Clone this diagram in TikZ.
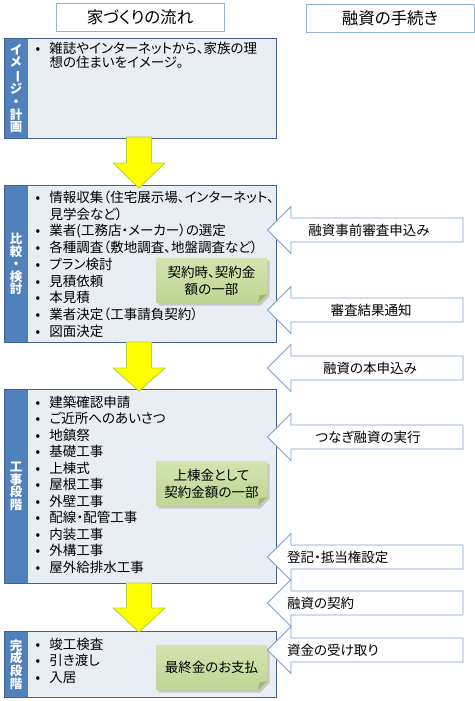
\documentclass[tikz,border=0pt]{standalone}
\usepackage{fontspec}
\setmainfont{Noto Sans CJK JP}[RawFeature=+palt]
\usetikzlibrary{calc}

\definecolor{bandblue}{HTML}{4F81BD}
\definecolor{boxfill}{HTML}{E9EDF4}
\definecolor{boxline}{HTML}{42638F}
\definecolor{headline}{HTML}{95B3D7}
\definecolor{loanline}{HTML}{7E9FCE}
\definecolor{flowyellow}{HTML}{FFFF00}
\definecolor{flowedge}{HTML}{B5D33A}
\definecolor{notetop}{HTML}{D3E4B0}
\definecolor{notebot}{HTML}{BED593}
\definecolor{notefold}{HTML}{9CB96B}

\newcommand{\itm}{\makebox[13.8pt][l]{\textbullet}}
\newcommand{\cnt}{\hspace*{13.8pt}}
\newcommand{\vbar}{\rotatebox[origin=c]{-90}{ー}}

\tikzset{
  headbox/.style={draw=headline, fill=white, line width=0.9pt, minimum width=168pt,
    minimum height=28pt, inner sep=0pt, font=\fontsize{16.5}{18}\selectfont},
  stagebox/.style={draw=boxline, fill=boxfill, line width=0.9pt, anchor=north west,
    minimum width=272pt, inner sep=0pt,
    path picture={\fill[bandblue] (path picture bounding box.north west)
      rectangle ([xshift=24pt]path picture bounding box.south west);}},
  bandtext/.style={text=white, align=center, inner sep=0pt,
    font=\fontsize{12.5}{12.6}\selectfont\bfseries},
  item/.style={anchor=base west, inner sep=0pt, font=\fontsize{13.5}{16}\selectfont},
  flow/.style={fill=flowyellow, draw=flowedge, line width=0.9pt, line join=round},
  loan/.style={fill=white, draw=loanline, line width=0.9pt},
  loantext/.style={inner sep=0pt, font=\fontsize{13.5}{16}\selectfont},
  notetext/.style={align=center, inner sep=0pt, font=\fontsize{13.5}{17}\selectfont}
}

\begin{document}
\begin{tikzpicture}[x=1pt, y=-1pt]
  \useasboundingbox (0,0) rectangle (474,701);

  % headings
  \node[headbox] (flowhead) at (140,17.5) {家づくりの流れ};
  \node[headbox] (loanhead) at (390,18) {融資の手続き};

  % stage boxes with the blue band
  \foreach \n/\top/\bot/\t in {1/38/138/{イ\\メ\\\vbar\\ジ\\・\\計\\画},
      2/185/342/{比\\較\\・\\検\\討}, 3/389/583/{工\\事\\段\\階},
      4/631/697/{完\\成\\段\\階}}{
    \node[stagebox, minimum height=\bot pt-\top pt] (stage\n) at (4,\top) {};
    \node[bandtext] (band\n) at ([xshift=12pt]stage\n.west) {\t};
  }

  % items
  \foreach \t [count=\i] in {{\itm 雑誌やインターネットから、家族の理},
      {\cnt 想の住まいをイメージ。}}
    \node[item] (one-\i) at (35.5,53+14*\i-14) {\t};
  \foreach \t [count=\i] in {{\itm 情報収集（住宅展示場、インターネット、},
      {\cnt 見学会など）}, {\itm 業者(工務店・メーカー）の選定},
      {\itm 各種調査（敷地調査、地盤調査など）}, {\itm プラン検討},
      {\itm 見積依頼}, {\itm 本見積}, {\itm 業者決定（工事請負契約）},
      {\itm 図面決定}}
    \node[item] (two-\i) at (35.5,202.5+16.7*\i-16.7) {\t};
  \foreach \t [count=\i] in {建築確認申請, ご近所へのあいさつ, 地鎮祭, 基礎工事,
      上棟式, 屋根工事, 外壁工事, 配線・配管工事, 内装工事, 外構工事,
      屋外給排水工事}
    \node[item] (three-\i) at (35.5,407+16.5*\i-16.5) {\itm\t};
  \foreach \t [count=\i] in {竣工検査, 引き渡し, 入居}
    \node[item] (four-\i) at (35.5,649+16.5*\i-16.5) {\itm\t};

  % yellow arrows between stages
  \foreach \top/\hs/\tip in {137/163/188, 342/368/391, 583/608/632}
    \draw[flow] (126.5,\top) -- (151.5,\top) -- (151.5,\hs) -- (165,\hs)
      -- (139,\tip) -- (113,\hs) -- (126.5,\hs) -- cycle;

  % notes
  \foreach \n/\top/\t in {1/258/{契約時、契約金\\額の一部},
      2/461/{上棟金として\\契約金額の一部}, 3/645/{最終金のお支払}}{
    \fill[black!22] (158.5,\top+2.5) -- (269.5,\top+2.5) -- (269.5,\top+38)
      -- (260.5,\top+47.5) -- (158.5,\top+47.5) -- cycle;
    \shade[top color=notetop, bottom color=notebot] (156,\top) -- (267,\top)
      -- (267,\top+36) -- (258,\top+45) -- (156,\top+45) -- cycle;
    \fill[notefold] (267,\top+36) -- (258,\top+45) -- (259.5,\top+37.5) -- cycle;
    \node[notetext] (note\n) at (211.5,\top+22.5) {\t};
  }

  % loan arrows
  \foreach \y/\x/\a/\t [count=\i] in {230/369/center/融資事前審査申込み,
      310/371/center/審査結果通知, 368/370/center/融資の本申込み,
      437/368/center/つなぎ融資の実行, 557/287/west/登記・抵当権設定,
      603/287/west/融資の契約, 650/287/west/資金の受け取り}{
    \draw[loan] (267.5,\y) -- (291,\y-23.5) -- (291,\y-12) -- (463,\y-12)
      -- (463,\y+12) -- (291,\y+12) -- (291,\y+23.5) -- cycle;
    \node[loantext, anchor=\a] (loan\i) at (\x,\y) {\t};
  }
\end{tikzpicture}
\end{document}
